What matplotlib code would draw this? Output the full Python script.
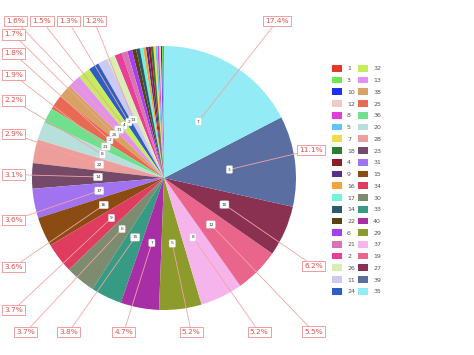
import numpy as np
import matplotlib
matplotlib.use('Agg')
import matplotlib.pyplot as plt
from matplotlib.patches import Patch

# ---- data (legend order = ascending value) ----
names = ['1', '3', '10', '12', '8', '5', '7', '18', '4', '9', '16', '17', '14', '22',
         '6', '21', '2', '26', '11', '24', '32', '13', '38', '25', '36', '20', '28',
         '23', '31', '15', '34', '30', '33', '40', '29', '37', '19', '27', '39', '35']
pcts = [0.1, 0.15, 0.15, 0.2, 0.2, 0.25, 0.25, 0.3, 0.3, 0.3, 0.35, 0.4, 0.45, 0.5,
        0.6, 0.7, 0.9, 1.0, 1.2, 1.3, 1.5, 1.6, 1.7, 1.8, 1.9, 2.2, 2.9,
        3.1, 3.6, 3.6, 3.7, 3.7, 3.8, 4.7, 5.2, 5.2, 5.5, 6.2, 11.1, 17.4]
colors = ['#e53a2a', '#6aea4e', '#1f2ff2', '#f1cac5', '#e23fd8', '#5ec6f2', '#eedc4c',
          '#2e7a30', '#8c1c28', '#5a2d8c', '#f3a23f', '#6ff3de', '#2a5a6c', '#5a4112',
          '#a43ff0', '#d874b4', '#ea3f98', '#dbeeb2', '#cdc9f5', '#2d5fc2', '#c5ec5c',
          '#e291ee', '#d7a264', '#e86a52', '#70e08c', '#b7dfdc', '#ee9e9a', '#744a68',
          '#a173f0', '#8b4c14', '#e03c60', '#7d8b6e', '#379a82', '#a82ea6', '#8d9a2c',
          '#f5b5ec', '#e9658c', '#8a3152', '#5b6ea2', '#92ebf5']
inner_texts = ['', '', '', '', '', '', '', '', '', '', '', '', '', '',
               '', '', '', '', '13', '2', '4', '11', '25', '2', '21', '8', '22',
               '14', '17', '16', '9', '6', '15', '7', '5', '8', '12', '10', '3', '7']

W, H = 474, 355
cx_px, cy_px, r_px = 164, 178, 132

fig = plt.figure(figsize=(W / 100, H / 100), dpi=100)
ax = fig.add_axes([0, 0, 1, 1])
wedges, _ = ax.pie(pcts, colors=colors, startangle=90, counterclock=True,
                   radius=1, center=(0, 0), wedgeprops=dict(linewidth=0))
ax.set_xlim(-cx_px / r_px, (W - cx_px) / r_px)
ax.set_ylim(-(H - cy_px) / r_px, cy_px / r_px)
ax.set_aspect('auto')
ax.axis('off')

fs_out = 5.3
em = fs_out * 100 / 72.0
cw = {'.': 0.318, '%': 0.95}

def half_w(s):
    return (sum(cw.get(c, 0.636) for c in s) + 0.6) * em / 2.0

xmin_px, xmax_px = 2, 325
ytop_px, ybot_px = 21, 332

items = []
for w, p, t in zip(wedges, pcts, inner_texts):
    if p < 1.15:
        continue
    mid = np.deg2rad((w.theta1 + w.theta2) / 2.0)
    d = np.array([np.cos(mid), np.sin(mid)])
    ip = 0.5 * d
    op = 1.65 * d
    lab = f'{p:.1f}%'
    hw = half_w(lab)
    x_px = cx_px + op[0] * r_px
    y_px = cy_px - op[1] * r_px
    x_px = min(max(x_px, xmin_px + hw), xmax_px - hw)
    top = False
    if y_px <= ytop_px:
        y_px = ytop_px
        top = True
    y_px = min(y_px, ybot_px)
    items.append(dict(ip=ip, x=x_px, y=y_px, hw=hw, lab=lab, t=t, top=top))

# spread labels in the top row
toprow = sorted([it for it in items if it['top']], key=lambda it: it['x'])
for a, b in zip(toprow, toprow[1:]):
    b['x'] = max(b['x'], a['x'] + a['hw'] + b['hw'] + 3)

for it in items:
    ox = (it['x'] - cx_px) / r_px
    oy = (cy_px - it['y']) / r_px
    ip = it['ip']
    ax.plot([ip[0], ox], [ip[1], oy], color='#f2a4a4', lw=0.6, zorder=2,
            solid_capstyle='butt')
    ax.text(ip[0], ip[1], it['t'], fontsize=3.2, ha='center', va='center',
            color='#333333', zorder=4,
            bbox=dict(boxstyle='round,pad=0.4,rounding_size=0.25', fc='white',
                      ec='#cccccc', lw=0.3))
    ax.text(ox, oy, it['lab'], fontsize=fs_out, ha='center', va='center',
            color='#d9534f', zorder=5,
            bbox=dict(boxstyle='square,pad=0.3', fc='white', ec='#f0a0a0', lw=0.7))

handles = [Patch(facecolor=c, edgecolor='none') for c in colors]
fig.legend(handles, names, ncol=2, loc='upper left',
           bbox_to_anchor=(332 / W, 1 - 65 / H), frameon=False, fontsize=4.5,
           handlelength=1.6, handleheight=1.28, handletextpad=0.8,
           labelspacing=0.8, columnspacing=0.5, borderpad=0, borderaxespad=0,
           labelcolor='#555555')

fig.savefig('out.png', dpi=100)
